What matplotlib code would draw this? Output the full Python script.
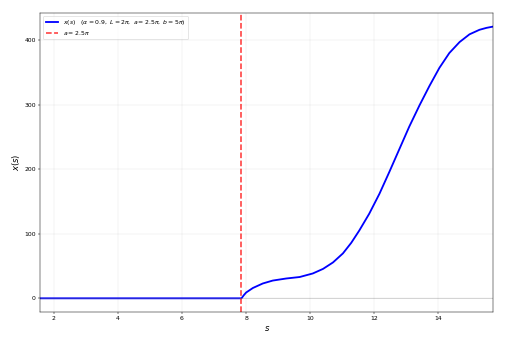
import numpy as np
import matplotlib
matplotlib.use("Agg")
import matplotlib.pyplot as plt

# values
s_vals = [1.5708, 7.854, 7.93, 8.0, 8.21, 8.52, 8.83, 9.25, 9.67, 10.08,
          10.40, 10.71, 11.02, 11.28, 11.53, 11.84, 12.16, 12.47, 12.78, 13.09,
          13.41, 13.72, 14.03, 14.34, 14.66, 14.97, 15.28, 15.50, 15.708]
x_vals = [0, 0, 5, 9, 16, 23, 27.5, 30.7, 33, 38.5,
          45.6, 55.6, 69.6, 86, 105, 131, 162, 196, 231, 266,
          299, 329, 357, 380, 397, 409, 416, 419, 421]

a = 2.5 * np.pi
s_min = np.pi / 2
s_max = 5 * np.pi

fig, ax = plt.subplots(figsize=(12, 7.773), dpi=44)
fig.subplots_adjust(left=0.076, right=0.934, bottom=0.088, top=0.962)

ax.plot(s_vals, x_vals, color='blue', lw=3,
        label=r'$x(s)$   $(\alpha=0.9,\ L=2\pi,\ a=2.5\pi,\ b=5\pi)$')
ax.axvline(a, color='red', ls='--', lw=2.5, alpha=0.8, label=r'$a=2.5\pi$')
ax.axhline(0, color='gray', lw=1, alpha=0.5)

ax.set_xlim(s_min, s_max)
ax.set_xlabel(r'$s$', fontsize=14)
ax.set_ylabel(r'$x(s)$', fontsize=14)
ax.grid(True, alpha=0.3)
ax.legend(loc='upper left', fontsize=10, labelspacing=0.2)

fig.savefig('out.png', dpi=44)
